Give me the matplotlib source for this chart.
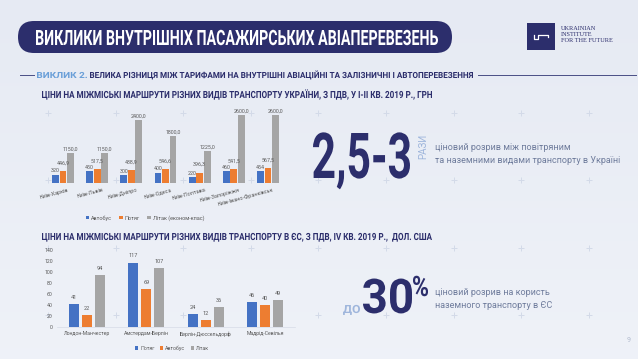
import numpy as np
import matplotlib.pyplot as plt
from matplotlib.patches import FancyBboxPatch, Rectangle, PathPatch
from matplotlib.textpath import TextPath
from matplotlib.font_manager import FontProperties
from matplotlib.transforms import Affine2D

plt.rcParams['font.family'] = ['Roboto', 'DejaVu Sans']

# --- data ---
routes_ua = ['Київ-Харків', 'Київ-Львів', 'Київ-Дніпро', 'Київ-Одеса',
             'Київ-Полтава', 'Київ-Запоріжжя', 'Київ-Івано-Франківськ']
bus_ua = [320, 450, 300, 400, 220, 460, 454]
train_ua = [446.9, 517.5, 488.9, 546.6, 396.3, 541.5, 567.5]
plane_ua = [1150.0, 1150.0, 2400.0, 1800.0, 1225.0, 2600.0, 2600.0]

routes_eu = ['Лондон-Манчестер', 'Амстердам-Берлін', 'Берлін-Дюссельдорф', 'Мадрід-Севілья']
train_eu = [41, 117, 24, 46]
bus_eu = [22, 69, 12, 40]
plane_eu = [94, 107, 36, 49]

BLUE, ORANGE, GREY = '#4472c4', '#ed7d31', '#a5a5a5'
NAVY = '#2c2e6c'
LIGHTBLUE = '#6a9fd8'
BG = '#e9edf5'
TXT = '#6f7c9c'
LBL = '#5a5a5a'

W, H = 638, 359
fig = plt.figure(figsize=(W / 100, H / 100), dpi=100)
fig.patch.set_facecolor(BG)


def box(x0, y0, x1, y1):
    return [x0 / W, 1 - y1 / H, (x1 - x0) / W, (y1 - y0) / H]


bg = fig.add_axes([0, 0, 1, 1])
bg.set_xlim(0, W)
bg.set_ylim(H, 0)
bg.axis('off')

# soft background: darker top, lighter towards the bottom
grad = np.linspace(0, 1, 100)[:, None]
top = np.array([0.902, 0.918, 0.953])
bot = np.array([0.937, 0.949, 0.973])
img = top + (bot - top) * grad[..., None]
bg.imshow(np.repeat(img, 2, axis=1), extent=(0, W, H, 0), aspect='auto', zorder=0)

_cap = TextPath((0, 0), 'H', size=100,
                prop=FontProperties(family='Roboto', weight='bold')).get_extents().height


def squeeze(s, x0, x1, base, cap, color):
    # condensed heading text: stretch a bold path into the given width / cap height
    tp = TextPath((0, 0), s, size=100, prop=FontProperties(family='Roboto', weight='bold'))
    ext = tp.get_extents()
    sx = (x1 - x0) / ext.width
    sy = cap / _cap
    tr = Affine2D().translate(-ext.x0, 0).scale(sx, -sy).translate(x0, base)
    bg.add_patch(PathPatch(tr.transform_path(tp), facecolor=color, lw=0, zorder=3))


# faint background crosses
gx, gy = np.meshgrid(np.arange(48, 640, 67.6), [113, 180, 248, 315])
bg.plot(gx.ravel(), gy.ravel(), '+', color='#d3dae8', ms=5, mew=0.7, zorder=1)

# header pill
bg.add_patch(FancyBboxPatch((18, 21), 434, 32, boxstyle='round,pad=0,rounding_size=16',
                            facecolor=NAVY, lw=0, zorder=2))
squeeze('ВИКЛИКИ ВНУТРІШНІХ ПАСАЖИРСЬКИХ АВІАПЕРЕВЕЗЕНЬ', 36, 438, 45, 15, 'white')

# logo
bg.add_patch(Rectangle((527, 23), 28, 27, facecolor=NAVY, lw=0, zorder=2))
bg.plot([534, 534, 538, 538, 548, 548], [35, 39, 39, 35, 35, 37], color='white', lw=0.9, zorder=3)
for i, t in enumerate(['UKRAINIAN', 'INSTITUTE', 'FOR THE FUTURE']):
    bg.text(561, 28 + 6 * i, t, family='Liberation Serif', fontsize=4.5,
            color=NAVY, va='center')

# subtitle line
bg.plot([20, 34], [75, 75], color='#4a4f85', lw=0.7)
bg.plot([478, 636], [75, 75], color='#4a4f85', lw=0.7)
squeeze('ВИКЛИК 2.', 37, 87, 78, 6, LIGHTBLUE)
squeeze('ВЕЛИКА РІЗНИЦЯ МІЖ ТАРИФАМИ НА ВНУТРІШНІ АВІАЦІЙНІ ТА ЗАЛІЗНИЧНІ І АВТОПЕРЕВЕЗЕННЯ',
        90, 473, 78, 6, NAVY)

squeeze('ЦІНИ НА МІЖМІСЬКІ МАРШРУТИ РІЗНИХ ВИДІВ ТРАНСПОРТУ УКРАЇНИ, З ПДВ, У І-ІІ КВ. 2019 Р., ГРН',
        42, 432, 98, 7, NAVY)
squeeze('ЦІНИ НА МІЖМІСЬКІ МАРШРУТИ РІЗНИХ ВИДІВ ТРАНСПОРТУ В ЄС, З ПДВ, IV КВ. 2019 Р.,  ДОЛ. США',
        42, 432, 240, 7, NAVY)

# big numbers
squeeze('2,5-3', 313, 410, 178, 45, NAVY)
bg.text(423, 146, 'РАЗИ', rotation=90, fontsize=7, color='#9fb6dc', ha='center', va='center')
bg.text(435, 150, 'ціновий розрив між повітряним', fontsize=6.5, color=TXT, va='baseline')
bg.text(435, 163, 'та наземними видами транспорту в Україні', fontsize=6.5, color=TXT, va='baseline')

squeeze('30', 363, 412, 313, 34, NAVY)
squeeze('%', 413, 428, 296, 20, NAVY)
squeeze('ДО', 343, 360, 313, 8, '#9fb6dc')
bg.text(435, 295, 'ціновий розрив на користь', fontsize=6.5, color=TXT, va='baseline')
bg.text(435, 308, 'наземного транспорту в ЄС', fontsize=6.5, color=TXT, va='baseline')

bg.text(629, 341, '9', fontsize=5, color='#b3bccf', ha='center', va='center')


def fmt(v):
    return f'{v:.1f}'.replace('.', ',')


# --- Ukraine chart ---
ax1 = fig.add_axes(box(46, 108, 285, 183))
ax1.set_facecolor('none')
x = np.arange(len(routes_ua))
w = 0.2
b1 = ax1.bar(x - 0.22, bus_ua, w, color=BLUE, label='Автобус')
b2 = ax1.bar(x, train_ua, w, color=ORANGE, label='Потяг')
b3 = ax1.bar(x + 0.22, plane_ua, w, color=GREY, label='Літак (економ-клас)')
ax1.bar_label(b1, labels=[str(v) for v in bus_ua], fontsize=3.8, color=LBL, padding=1)
ax1.bar_label(b2, labels=[fmt(v) for v in train_ua], fontsize=3.8, color=LBL, padding=4)
ax1.bar_label(b3, labels=[fmt(v) for v in plane_ua], fontsize=3.8, color=LBL, padding=1)
ax1.set_xlim(-0.5, len(routes_ua) - 0.5)
ax1.set_ylim(0, 2868)
ax1.set_yticks([])
ax1.set_xticks(x + 0.15)
ax1.set_xticklabels(routes_ua, rotation=15, ha='right', rotation_mode='anchor',
                    fontsize=4, color=LBL)
ax1.tick_params(axis='x', length=0, pad=3)
for s in ax1.spines.values():
    s.set_visible(False)
fig.legend(handles=[b1, b2, b3], loc='center', bbox_to_anchor=(145 / W, 1 - 218 / H),
           ncol=3, frameon=False, fontsize=4, handlelength=0.6, handleheight=0.6,
           handletextpad=0.4, columnspacing=1.3, labelcolor=LBL)

# --- EU chart ---
ax2 = fig.add_axes(box(57, 250, 295, 327))
ax2.set_facecolor('none')
x2 = np.arange(len(routes_eu))
w2 = 0.17
c1 = ax2.bar(x2 - 0.22, train_eu, w2, color=BLUE, label='Потяг')
c2 = ax2.bar(x2, bus_eu, w2, color=ORANGE, label='Автобус')
c3 = ax2.bar(x2 + 0.22, plane_eu, w2, color=GREY, label='Літак')
for c in (c1, c2, c3):
    ax2.bar_label(c, fontsize=4, color=LBL, padding=3)
ax2.set_xlim(-0.5, len(routes_eu) - 0.5)
ax2.set_ylim(0, 140)
ax2.set_yticks(range(0, 141, 20))
ax2.set_xticks(x2)
ax2.set_xticklabels(routes_eu, fontsize=3.6, color=LBL)
ax2.tick_params(axis='both', length=0, labelsize=3.7, labelcolor=LBL, pad=3)
for s in ax2.spines.values():
    s.set_visible(False)
ax2.spines['bottom'].set_visible(True)
ax2.spines['bottom'].set_color('#d6dbe6')
ax2.spines['bottom'].set_linewidth(0.5)
fig.legend(handles=[c1, c2, c3], loc='center', bbox_to_anchor=(172 / W, 1 - 348 / H),
           ncol=3, frameon=False, fontsize=3.8, handlelength=0.6, handleheight=0.6,
           handletextpad=0.4, columnspacing=1.0, labelcolor=LBL)

fig.savefig('out.png', dpi=100, facecolor=fig.get_facecolor())
